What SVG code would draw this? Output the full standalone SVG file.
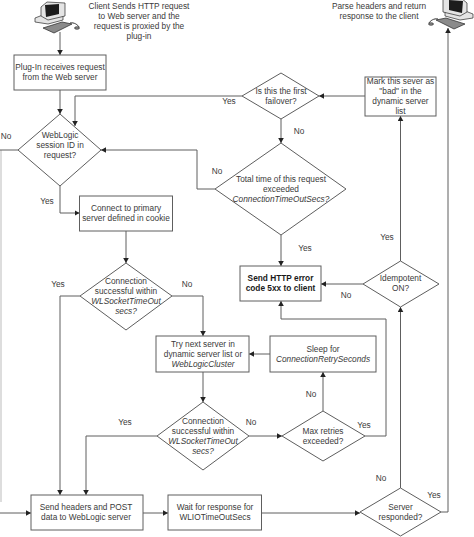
<svg xmlns="http://www.w3.org/2000/svg" width="474" height="537" viewBox="0 0 474 537">
<style>
text{font-family:"Liberation Sans",Arial,sans-serif;font-size:8.3px;fill:#3a3a3a;text-anchor:middle}
.i{font-style:italic}
.b{font-weight:bold;fill:#1a1a1a}
.s{fill:#fff;stroke:#5e5e5e;stroke-width:1}
#connectors path{fill:none;stroke:#5e5e5e;stroke-width:1;marker-end:url(#a)}
#connectors path.n{marker-end:none}
#connectors path.g{marker-end:none;stroke:#ddd;stroke-width:2}
.pc1{fill:#e4e4e4;stroke:#2a2a2a;stroke-width:.7}
.pc2{fill:#1c1c1c}
.pc3{fill:#8a8a8a;stroke:#222;stroke-width:.7}
</style>
<defs>
<marker id="a" markerUnits="userSpaceOnUse" markerWidth="6" markerHeight="6" refX="5" refY="3" orient="auto"><path d="M0 0.2L5 3L0 5.800z" fill="#222"/></marker>
<g id="pc"><path class="pc1" d="M35 18L48 13L63 16L63 20L48 24L35 22z"/><path class="pc1" d="M41 7L47 2L65 3L65 16L48 20L41 16z"/><path class="pc2" d="M45 5L59 4L59 14L46 17z"/><path class="pc3" d="M43 28L62 22L72 24L54 33z"/><path d="M70 23C74 22 78 25 79 27" fill="none" stroke="#333" stroke-width="1"/><ellipse cx="77" cy="28" rx="2.500" ry="1.300" fill="#888" stroke="#222" stroke-width=".6"/></g>
</defs>
<g id="connectors">
<path class="g" d="M1 150V502"/>
<path class="n" d="M18 150H0"/>
<path d="M60 32V55"/>
<path d="M60 90V114"/>
<path d="M0 513H31"/>
<path d="M60 186V213H79.500"/>
<path d="M126 231V263"/>
<path d="M80 296H60V495"/>
<path d="M172 296H203V336"/>
<path d="M203 372V402"/>
<path d="M157 436H86V495"/>
<path d="M143 513H168"/>
<path d="M261.500 513H360"/>
<path d="M441 512H448V28"/>
<path d="M400.500 488V307"/>
<path d="M363 284H321"/>
<path d="M400.500 261V116"/>
<path d="M365 96H319"/>
<path d="M242 96H75V126"/>
<path d="M281 119V143"/>
<path d="M215 189H197V150H101"/>
<path d="M281 235V266"/>
<path d="M270 354H249"/>
<path d="M249 436H282"/>
<path d="M323 411V372"/>
<path d="M365 436H386V319H281V301"/>
</g>
<g id="client"><use href="#pc"/></g>
<g id="server"><use href="#pc" transform="translate(508,-4) scale(-1,1)"/></g>
<g id="client-text"><text x="139" y="9">Client Sends HTTP request</text><text x="139" y="19">to Web server and the</text><text x="139" y="29">request is proxied by the</text><text x="139" y="39">plug-in</text></g>
<g id="parse-text"><text x="379" y="9">Parse headers and return</text><text x="379" y="19">response to the client</text></g>
<g id="plugin"><rect class="s" x="14" y="55" width="92" height="35"/><text x="60" y="70">Plug-In receives request</text><text x="60" y="80">from the Web server</text></g>
<g id="session"><polygon class="s" points="60,114 101,150 60,186 18,150"/><text x="60" y="138">WebLogic</text><text x="60" y="148">session ID in</text><text x="60" y="158">request?</text></g>
<g id="primary"><rect class="s" x="79.500" y="196" width="93" height="35"/><text x="126" y="211">Connect to primary</text><text x="126" y="221">server defined in cookie</text></g>
<g id="conn1"><polygon class="s" points="126,263 172,296 126,330 80,296"/><text x="126" y="284">Connection</text><text x="126" y="294">successful within</text><text class="i" x="126" y="304">WLSocketTimeOut</text><text class="i" x="126" y="314">secs?</text></g>
<g id="first"><polygon class="s" points="281,73 319,96 281,119 242,96"/><text x="281" y="94">Is this the first</text><text x="281" y="104">failover?</text></g>
<g id="mark"><rect class="s" x="365" y="77" width="71" height="39"/><text x="400.500" y="84">Mark this sever as</text><text x="400.500" y="94">"bad" in the</text><text x="400.500" y="104">dynamic server</text><text x="400.500" y="114">list</text></g>
<g id="total"><polygon class="s" points="281,143 346,189 281,235 215,189"/><text x="281" y="182">Total time of this request</text><text x="281" y="192">exceeded</text><text class="i" x="281" y="202">ConnectionTimeOutSecs?</text></g>
<g id="error"><rect class="s" x="240" y="266" width="81" height="35"/><text class="b" x="280.500" y="281">Send HTTP error</text><text class="b" x="280.500" y="291">code 5xx to client</text></g>
<g id="idempotent"><polygon class="s" points="400.500,261 439,284 400.500,307 363,284"/><text x="400.500" y="281">Idempotent</text><text x="400.500" y="291">ON?</text></g>
<g id="try"><rect class="s" x="156" y="336" width="93" height="36"/><text x="203" y="347">Try next server in</text><text x="203" y="357">dynamic server list or</text><text class="i" x="203" y="367">WebLogicCluster</text></g>
<g id="sleep"><rect class="s" x="270" y="336" width="106" height="36"/><text x="323" y="352">Sleep for</text><text class="i" x="323" y="362">ConnectionRetrySeconds</text></g>
<g id="conn2"><polygon class="s" points="203,402 249,436 203,470 157,436"/><text x="203" y="424">Connection</text><text x="203" y="434">successful within</text><text class="i" x="203" y="444">WLSocketTimeOut</text><text class="i" x="203" y="454">secs?</text></g>
<g id="retries"><polygon class="s" points="323,411 365,436 323,461 282,436"/><text x="323" y="434">Max retries</text><text x="323" y="444">exceeded?</text></g>
<g id="send"><rect class="s" x="31" y="495" width="112" height="35"/><text x="86" y="510">Send headers and POST</text><text x="86" y="520">data to WebLogic server</text></g>
<g id="wait"><rect class="s" x="168" y="495" width="93.500" height="35"/><text x="215" y="510">Wait for response for</text><text x="215" y="520">WLIOTimeOutSecs</text></g>
<g id="responded"><polygon class="s" points="400.500,488 441,512 400.500,536 360,512"/><text x="400.500" y="510">Server</text><text x="400.500" y="520">responded?</text></g>
<g id="labels">
<text x="6" y="139">No</text><text x="229" y="104">Yes</text><text x="47" y="204">Yes</text><text x="217" y="174">No</text>
<text x="299" y="134">No</text><text x="305" y="251">Yes</text><text x="387" y="240">Yes</text><text x="346" y="298">No</text>
<text x="58" y="287">Yes</text><text x="187" y="287">No</text><text x="125" y="425">Yes</text><text x="251" y="425">No</text>
<text x="311" y="397">No</text><text x="364" y="428">Yes</text><text x="381" y="481">No</text><text x="434" y="498">Yes</text>
</g>
</svg>
